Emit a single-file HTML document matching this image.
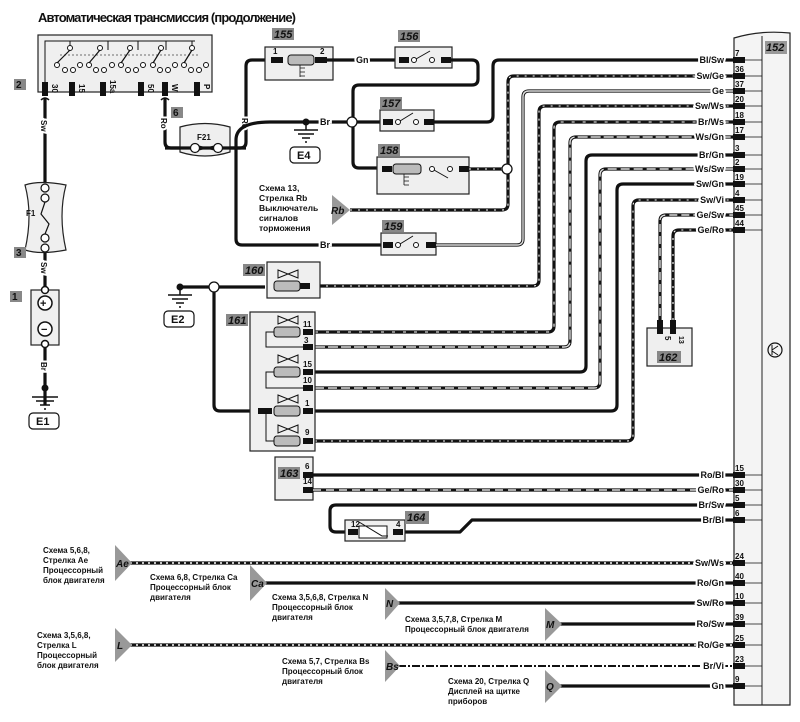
<!DOCTYPE html>
<html><head><meta charset="utf-8"><style>
html,body{margin:0;padding:0;background:#fff}
svg{display:block}
text{font-family:"Liberation Sans",sans-serif;font-weight:bold;fill:#111}
.lb{font-size:9px;stroke:#fff;stroke-width:4;paint-order:stroke}
.sm{font-size:8px}
.w{fill:none;stroke:#111;stroke-width:3.2;stroke-linejoin:round}
.wd{fill:none;stroke:#fff;stroke-width:1.1;stroke-dasharray:2 6}
.wh{fill:none;stroke:#ddd;stroke-width:1.4}
.ds{fill:none;stroke:#111;stroke-width:1.6;stroke-dasharray:7 4}
.box{fill:#efefef;stroke:#222;stroke-width:1.2}
.num{font-size:11px;font-style:italic;fill:#111}
.tag{fill:#888}
</style></head><body>
<svg width="800" height="722" viewBox="0 0 800 722" xmlns="http://www.w3.org/2000/svg">
<text x="38" y="22" font-size="13" textLength="258">Автоматическая трансмиссия (продолжение)</text>

<!-- ignition switch -->
<rect x="38" y="35" width="174" height="57" class="box"/>
<path d="M45,82 V41 H195 M108,41 V50 M138,41 V50 M166,41 V50 M192,41 V50 M70,41 V50" stroke="#111" stroke-width="1" fill="none"/>
<path d="M60,55 H200" stroke="#444" stroke-width="0.8" stroke-dasharray="2 2"/>
<g fill="#fff" stroke="#111" stroke-width="1">
<circle cx="70" cy="48" r="2.5"/><circle cx="100" cy="48" r="2.5"/><circle cx="130" cy="48" r="2.5"/><circle cx="161" cy="48" r="2.5"/><circle cx="192" cy="48" r="2.5"/>
<circle cx="57" cy="65" r="2.5"/><circle cx="65" cy="70" r="2.5"/><circle cx="73" cy="70" r="2.5"/><circle cx="80" cy="65" r="2.5"/>
<circle cx="89" cy="65" r="2.5"/><circle cx="96" cy="70" r="2.5"/><circle cx="104" cy="70" r="2.5"/><circle cx="112" cy="65" r="2.5"/>
<circle cx="121" cy="65" r="2.5"/><circle cx="128" cy="70" r="2.5"/><circle cx="136" cy="70" r="2.5"/><circle cx="143" cy="65" r="2.5"/>
<circle cx="153" cy="65" r="2.5"/><circle cx="160" cy="70" r="2.5"/><circle cx="168" cy="70" r="2.5"/><circle cx="175" cy="65" r="2.5"/>
<circle cx="184" cy="65" r="2.5"/><circle cx="191" cy="70" r="2.5"/><circle cx="199" cy="70" r="2.5"/><circle cx="206" cy="65" r="2.5"/>
</g>
<path d="M70,50 L57,63 M100,50 L89,63 M130,50 L121,63 M161,50 L153,63 M192,50 L184,63" stroke="#111" stroke-width="1.2"/>
<g fill="#111"><rect x="42" y="82" width="6" height="14"/><rect x="69" y="82" width="6" height="14"/><rect x="100" y="82" width="6" height="14"/><rect x="138" y="82" width="6" height="14"/><rect x="162" y="82" width="6" height="14"/><rect x="194" y="82" width="6" height="14"/></g>
<g class="sm"><text transform="translate(52,84) rotate(90)">30</text><text transform="translate(79,84) rotate(90)">15</text><text transform="translate(110,80) rotate(90)">15a</text><text transform="translate(148,84) rotate(90)">50</text><text transform="translate(172,84) rotate(90)">W</text><text transform="translate(204,84) rotate(90)">P</text></g>
<rect x="14" y="79" width="12" height="11" class="tag"/><text x="16" y="88" font-size="10">2</text>

<!-- left chain -->
<path d="M45,98 V405" class="w"/>
<path d="M41,100 Q45,96 49,100" stroke="#111" fill="none" stroke-width="1.5"/>
<text class="lb sm" transform="translate(41,120) rotate(90)">Sw</text>
<path d="M25,185 Q40,180 66,185 Q58,215 66,250 Q40,255 25,250 Q33,215 25,185 Z" class="box"/>
<g fill="#fff" stroke="#111" stroke-width="1.2"><circle cx="45" cy="188" r="4"/><circle cx="45" cy="198" r="4"/><circle cx="45" cy="238" r="4"/><circle cx="45" cy="248" r="4"/></g>
<path d="M45,202 L41,214 L49,224 L45,234" stroke="#111" stroke-width="1.2" fill="none"/>
<text x="26" y="216" font-size="8">F1</text>
<rect x="14" y="247" width="12" height="11" class="tag"/><text x="16" y="256" font-size="10">3</text>
<text class="lb sm" transform="translate(41,262) rotate(90)">Sw</text>
<rect x="31" y="290" width="28" height="55" class="box"/>
<g fill="#fff" stroke="#111" stroke-width="1.5"><circle cx="45" cy="290" r="3.5"/><circle cx="45" cy="344" r="3.5"/><circle cx="45" cy="303" r="7"/><circle cx="45" cy="329" r="7"/></g>
<text x="40" y="307" font-size="11">+</text><text x="41" y="333" font-size="11">−</text>
<rect x="10" y="291" width="12" height="11" class="tag"/><text x="12" y="300" font-size="10">1</text>
<text class="lb sm" transform="translate(41,362) rotate(90)">Br</text>
<circle cx="45" cy="388" r="3.5" fill="#111"/>
<path d="M32,397 H58 M36,401 H54 M40,405 H50 M44,409 H46" stroke="#111" stroke-width="1.5"/>
<rect x="29" y="413" width="30" height="16" rx="4" fill="#fff" stroke="#111" stroke-width="1.2"/><text x="36" y="425" font-size="11" font-weight="normal">E1</text>

<!-- F21 / Ro -->
<path d="M165,98 V142 Q165,148 171,148 H240 Q246,148 246,142 V66 Q246,60 252,60 H265" class="w"/>
<path d="M161,100 Q165,96 169,100" stroke="#111" fill="none" stroke-width="1.5"/>
<path d="M180,127 Q205,120 230,127 L230,152 Q205,160 180,152 Z" class="box"/>
<path d="M165,148 H246" class="w"/>
<g fill="#fff" stroke="#111" stroke-width="1.2"><circle cx="195" cy="148" r="4.5"/><circle cx="218" cy="148" r="4.5"/></g>
<path d="M199,146 L214,150 M199,150 L214,146" stroke="#111"/>
<text x="197" y="140" font-size="8">F21</text>
<rect x="171" y="107" width="12" height="11" class="tag"/><text x="173" y="116" font-size="10">6</text>
<text class="lb sm" transform="translate(161,118) rotate(90)">Ro</text>
<text class="lb sm" transform="translate(242,118) rotate(90)">Ro</text>

<!-- 155 -->
<rect x="265" y="47" width="68" height="33" class="box"/>
<rect x="272" y="28" width="22" height="12" class="tag"/><text x="274" y="38" class="num">155</text>
<rect x="271" y="57" width="12" height="6" fill="#111"/><rect x="315" y="57" width="12" height="6" fill="#111"/>
<rect x="288" y="55" width="26" height="10" rx="3" fill="#bbb" stroke="#111"/>
<text x="273" y="54" class="sm">1</text><text x="320" y="54" class="sm">2</text>
<path d="M300,65 V77 M300,68 H305 M300,72 H305 M300,76 H305" stroke="#111" stroke-width="0.8"/>
<path d="M327,60 H395" class="w"/><text x="356" y="63" class="lb">Gn</text>
<!-- 156 -->
<rect x="395" y="47" width="57" height="21" class="box"/>
<rect x="398" y="30" width="22" height="12" class="tag"/><text x="400" y="40" class="num">156</text>
<rect x="399" y="57" width="10" height="6" fill="#111"/><rect x="441" y="57" width="10" height="6" fill="#111"/>
<circle cx="414" cy="60" r="2.5" fill="#fff" stroke="#111"/><circle cx="432" cy="60" r="2.5" fill="#fff" stroke="#111"/><path d="M416,59 L430,51" stroke="#111"/>
<path d="M451,60 H472 Q478,60 478,66 V79 Q478,85 472,85 H359 Q353,85 353,91 V162 Q353,168 359,168 H377" class="w"/>

<!-- E4 / Br -->
<path d="M380,122 H270 Q236,122 236,140 V239 Q236,245 242,245 H381" class="w"/>
<circle cx="352" cy="122" r="5" fill="#fff" stroke="#111" stroke-width="1.3"/>
<circle cx="306" cy="122" r="3.5" fill="#111"/>
<path d="M306,122 V130 M294,130 H318 M298,134 H314 M302,138 H310 M305,142 H307" stroke="#111" stroke-width="1.5"/>
<rect x="290" y="147" width="30" height="16" rx="4" fill="#fff" stroke="#111" stroke-width="1.2"/><text x="297" y="159" font-size="11" font-weight="normal">E4</text>
<text x="320" y="125" class="lb">Br</text><text x="320" y="248" class="lb">Br</text>
<!-- 157 -->
<rect x="380" y="110" width="54" height="21" class="box"/>
<rect x="380" y="97" width="22" height="12" class="tag"/><text x="382" y="107" class="num">157</text>
<rect x="383" y="119" width="10" height="6" fill="#111"/><rect x="424" y="119" width="10" height="6" fill="#111"/>
<circle cx="398" cy="122" r="2.5" fill="#fff" stroke="#111"/><circle cx="416" cy="122" r="2.5" fill="#fff" stroke="#111"/><path d="M400,121 L413,113" stroke="#111"/>
<!-- 158 -->
<rect x="377" y="157" width="92" height="37" class="box"/>
<rect x="378" y="144" width="22" height="12" class="tag"/><text x="380" y="154" class="num">158</text>
<rect x="382" y="166" width="10" height="6" fill="#111"/><rect x="459" y="166" width="10" height="6" fill="#111"/>
<rect x="393" y="164" width="28" height="10" rx="3" fill="#bbb" stroke="#111"/>
<path d="M404,174 V185 M404,177 H409 M404,181 H409 M404,185 H409" stroke="#111" stroke-width="0.8"/>
<circle cx="432" cy="169" r="2.5" fill="#fff" stroke="#111"/><circle cx="450" cy="169" r="2.5" fill="#fff" stroke="#111"/><path d="M434,170 L448,178" stroke="#111"/>
<!-- 159 -->
<rect x="381" y="233" width="55" height="22" class="box"/>
<rect x="382" y="220" width="22" height="12" class="tag"/><text x="384" y="230" class="num">159</text>
<rect x="383" y="242" width="10" height="6" fill="#111"/><rect x="426" y="242" width="10" height="6" fill="#111"/>
<circle cx="398" cy="245" r="2.5" fill="#fff" stroke="#111"/><circle cx="416" cy="245" r="2.5" fill="#fff" stroke="#111"/><path d="M400,244 L413,236" stroke="#111"/>
<!-- Rb -->
<path d="M332,195 L350,210 L332,225 Z" fill="#999"/>
<text x="331" y="214" font-size="10" font-style="italic">Rb</text>
<g font-size="8.5"><text x="259" y="191">Схема 13,</text><text x="259" y="201">Стрелка Rb</text><text x="259" y="211">Выключатель</text><text x="259" y="221">сигналов</text><text x="259" y="231">торможения</text></g>

<!-- top wires to 152 -->
<path d="M434,122 H487 Q493,122 493,116 V66 Q493,60 499,60 H733" class="w"/>
<path d="M350,210 H502 Q508,210 508,204 V82 Q508,76 514,76 H733" class="w"/><path d="M350,210 H502 Q508,210 508,204 V82 Q508,76 514,76 H733" class="wd"/>
<path d="M469,169 H507" class="w"/><path d="M469,169 H507" class="wd"/>
<circle cx="507" cy="169" r="5" fill="#fff" stroke="#111" stroke-width="1.3"/>
<path d="M436,245 H517 Q523,245 523,239 V97 Q523,91 529,91 H733" class="w"/><path d="M436,245 H517 Q523,245 523,239 V97 Q523,91 529,91 H733" class="wh"/>
<path d="M318,286 H533 Q539,286 539,280 V112 Q539,106 545,106 H733" class="w"/><path d="M318,286 H533 Q539,286 539,280 V112 Q539,106 545,106 H733" class="wd"/>
<path d="M315,332 H548 Q554,332 554,326 V128 Q554,122 560,122 H733" class="w"/><path d="M315,332 H548 Q554,332 554,326 V128 Q554,122 560,122 H733" class="wd" style="stroke-dasharray:3 8"/>
<path d="M315,347 H564 Q570,347 570,341 V143 Q570,137 576,137 H733" class="w"/><path d="M315,347 H564 Q570,347 570,341 V143 Q570,137 576,137 H733" class="wh" style="stroke-dasharray:10 3"/>
<path d="M315,372 H580 Q586,372 586,366 V161 Q586,155 592,155 H733" class="w"/>
<path d="M315,388 H594 Q600,388 600,382 V175 Q600,169 606,169 H733" class="w"/><path d="M315,388 H594 Q600,388 600,382 V175 Q600,169 606,169 H733" class="wh" style="stroke-dasharray:9 4"/>
<path d="M315,411 H611 Q617,411 617,405 V190 Q617,184 623,184 H733" class="w"/>
<path d="M315,441 H627 Q633,441 633,435 V206 Q633,200 639,200 H733" class="w"/><path d="M315,441 H627 Q633,441 633,435 V206 Q633,200 639,200 H733" class="wd"/>
<path d="M660,328 V221 Q660,215 666,215 H733" class="w"/><path d="M660,328 V221 Q660,215 666,215 H733" class="wh" style="stroke-dasharray:8 4"/>
<path d="M673,328 V236 Q673,230 679,230 H733" class="w"/><path d="M673,328 V236 Q673,230 679,230 H733" class="wd"/>
<g class="lb" text-anchor="end">
<text x="724" y="63">Bl/Sw</text><text x="724" y="79">Sw/Ge</text><text x="724" y="94">Ge</text><text x="724" y="109">Sw/Ws</text><text x="724" y="125">Br/Ws</text><text x="724" y="140">Ws/Gn</text><text x="724" y="158">Br/Gn</text><text x="724" y="172">Ws/Sw</text><text x="724" y="187">Sw/Gn</text><text x="724" y="203">Sw/Vi</text><text x="724" y="218">Ge/Sw</text><text x="724" y="233">Ge/Ro</text>
</g>
<!-- 162 -->
<rect x="647" y="328" width="45" height="38" class="box"/>
<rect x="657" y="320" width="6" height="14" fill="#111"/><rect x="670" y="320" width="6" height="14" fill="#111"/>
<text class="sm" transform="translate(665,336) rotate(90)" font-size="7">5</text><text transform="translate(679,336) rotate(90)" font-size="7">13</text>
<rect x="657" y="351" width="24" height="12" class="tag"/><text x="659" y="361" class="num">162</text>

<!-- E2 / 160 / 161 -->
<path d="M180,287 H265" class="w"/><circle cx="180" cy="287" r="3.5" fill="#111"/>
<path d="M180,287 V295 M168,295 H192 M172,299 H188 M176,303 H184 M179,307 H181" stroke="#111" stroke-width="1.5"/>
<rect x="164" y="311" width="30" height="16" rx="4" fill="#fff" stroke="#111" stroke-width="1.2"/><text x="171" y="323" font-size="11" font-weight="normal">E2</text>
<path d="M214,287 V405 Q214,411 220,411 H260" class="w"/>
<circle cx="214" cy="287" r="5" fill="#fff" stroke="#111" stroke-width="1.3"/>
<rect x="267" y="262" width="53" height="36" class="box"/>
<rect x="243" y="264" width="22" height="12" class="tag"/><text x="245" y="274" class="num">160</text>
<rect x="250" y="312" width="65" height="139" class="box"/>
<rect x="226" y="314" width="22" height="12" class="tag"/><text x="228" y="324" class="num">161</text>
<g fill="#bbb" stroke="#111">
<rect x="274" y="281" width="26" height="10" rx="3"/><rect x="274" y="327" width="26" height="10" rx="3"/><rect x="274" y="367" width="26" height="10" rx="3"/><rect x="274" y="406" width="26" height="10" rx="3"/><rect x="274" y="436" width="26" height="10" rx="3"/>
</g>
<g fill="none" stroke="#111" stroke-width="1">
<path d="M278,270 L288,274 L278,278 Z M298,270 L288,274 L298,278 Z"/>
<path d="M278,316 L288,320 L278,324 Z M298,316 L288,320 L298,324 Z"/>
<path d="M278,355 L288,359 L278,363 Z M298,355 L288,359 L298,363 Z"/>
<path d="M278,395 L288,399 L278,403 Z M298,395 L288,399 L298,403 Z"/>
<path d="M278,425 L288,429 L278,433 Z M298,425 L288,429 L298,433 Z"/>
<path d="M274,332 H266 V347 H303 M274,372 H266 V388 H303 M266,411 V441 H274"/>
</g>
<g fill="#111"><rect x="300" y="283" width="10" height="6"/><rect x="258" y="408" width="14" height="6"/>
<rect x="303" y="329" width="10" height="6"/><rect x="303" y="344" width="10" height="6"/><rect x="303" y="369" width="10" height="6"/><rect x="303" y="385" width="10" height="6"/><rect x="303" y="408" width="10" height="6"/><rect x="303" y="438" width="10" height="6"/></g>
<circle cx="266" cy="411" r="2" fill="#111"/>
<g class="sm"><text x="303" y="327">11</text><text x="304" y="343">3</text><text x="303" y="367">15</text><text x="303" y="383">10</text><text x="305" y="406">1</text><text x="305" y="435">9</text></g>

<!-- 163 -->
<rect x="275" y="457" width="38" height="43" class="box"/>
<rect x="278" y="467" width="22" height="12" class="tag"/><text x="280" y="477" class="num">163</text>
<rect x="303" y="472" width="10" height="6" fill="#111"/><rect x="303" y="487" width="10" height="6" fill="#111"/>
<text x="305" y="469" class="sm">6</text><text x="303" y="484" class="sm">14</text>
<path d="M313,475 H733" class="w"/>
<path d="M313,490 H733" class="w"/><path d="M313,490 H733" class="wh" style="stroke-dasharray:8 5"/>
<!-- 164 -->
<path d="M346,532 H336 Q330,532 330,526 V511 Q330,505 336,505 H733" class="w"/>
<path d="M403,532 H460 L472,520 H733" class="w"/>
<rect x="345" y="520" width="60" height="21" class="box"/>
<rect x="348" y="529" width="10" height="6" fill="#111"/><rect x="393" y="529" width="10" height="6" fill="#111"/>
<rect x="359" y="526" width="28" height="12" fill="#fff" stroke="#111"/><path d="M359,522 L382,536 L388,536" stroke="#111" fill="none"/>
<text x="351" y="527" class="sm">12</text><text x="396" y="527" class="sm">4</text>
<rect x="405" y="511" width="24" height="13" class="tag"/><text x="407" y="521" class="num">164</text>
<g class="lb" text-anchor="end"><text x="724" y="478">Ro/Bl</text><text x="724" y="493">Ge/Ro</text><text x="724" y="508">Br/Sw</text><text x="724" y="523">Br/Bl</text></g>

<!-- bottom arrows -->
<path d="M130,563 H733" class="w"/><path d="M130,563 H733" class="wd" style="stroke-dasharray:2 4;stroke-width:1.4"/>
<path d="M265,583 H733" class="w"/>
<path d="M398,603 H733" class="w"/>
<path d="M560,624 H733" class="w"/>
<path d="M130,645 H733" class="w"/><path d="M130,645 H733" class="wd" style="stroke-dasharray:2 4;stroke-width:1.4"/>
<path d="M398,666 H733" stroke="#111" stroke-width="2" stroke-dasharray="8 2 2 2"/>
<path d="M560,686 H733" class="w"/>
<g fill="#999">
<path d="M115,545 L132,563 L115,581 Z"/><path d="M250,565 L267,583 L250,601 Z"/><path d="M385,588 L400,603 L385,620 Z"/>
<path d="M545,608 L562,624 L545,641 Z"/><path d="M115,628 L132,645 L115,662 Z"/><path d="M385,650 L400,666 L385,682 Z"/><path d="M545,670 L562,686 L545,703 Z"/>
</g>
<g font-size="10" font-style="italic"><text x="116" y="567">Ae</text><text x="251" y="587">Ca</text><text x="386" y="607">N</text><text x="546" y="628">M</text><text x="117" y="649">L</text><text x="386" y="670">Bs</text><text x="546" y="690">Q</text></g>
<g font-size="8">
<text x="43" y="553">Схема 5,6,8,</text><text x="43" y="563">Стрелка Ae</text><text x="43" y="573">Процессорный</text><text x="43" y="583">блок двигателя</text>
<text x="150" y="580">Схема 6,8, Стрелка Ca</text><text x="150" y="590">Процессорный блок</text><text x="150" y="600">двигателя</text>
<text x="272" y="600">Схема 3,5,6,8, Стрелка N</text><text x="272" y="610">Процессорный блок</text><text x="272" y="620">двигателя</text>
<text x="405" y="622">Схема 3,5,7,8, Стрелка M</text><text x="405" y="632">Процессорный блок двигателя</text>
<text x="37" y="638">Схема 3,5,6,8,</text><text x="37" y="648">Стрелка L</text><text x="37" y="658">Процессорный</text><text x="37" y="668">блок двигателя</text>
<text x="282" y="664">Схема 5,7, Стрелка Bs</text><text x="282" y="674">Процессорный блок</text><text x="282" y="684">двигателя</text>
<text x="448" y="684">Схема 20, Стрелка Q</text><text x="448" y="694">Дисплей на щитке</text><text x="448" y="704">приборов</text>
</g>
<g class="lb" text-anchor="end"><text x="724" y="566">Sw/Ws</text><text x="724" y="586">Ro/Gn</text><text x="724" y="606">Sw/Ro</text><text x="724" y="627">Ro/Sw</text><text x="724" y="648">Ro/Ge</text><text x="724" y="669">Br/Vi</text><text x="724" y="689">Gn</text></g>

<!-- module 152 -->
<path d="M734,705 V38 Q760,30 790,33 V705 Z" fill="#f4f4f4" stroke="#222" stroke-width="1.2"/>
<path d="M762,36 V705" stroke="#222" stroke-width="1"/>
<rect x="765" y="41" width="22" height="13" fill="#999"/><text x="766" y="51" class="num">152</text>
<circle cx="775" cy="350" r="7" fill="none" stroke="#111" stroke-width="1.2"/>
<path d="M772,345 V355 M772,350 L778,346 M772,351 L778,355" stroke="#111" stroke-width="1"/>
<g id="pins">
<g fill="#111">
<rect x="733" y="57" width="12" height="6"/><rect x="733" y="73" width="12" height="6"/><rect x="733" y="88" width="12" height="6"/><rect x="733" y="103" width="12" height="6"/><rect x="733" y="119" width="12" height="6"/><rect x="733" y="134" width="12" height="6"/><rect x="733" y="152" width="12" height="6"/><rect x="733" y="166" width="12" height="6"/><rect x="733" y="181" width="12" height="6"/><rect x="733" y="197" width="12" height="6"/><rect x="733" y="212" width="12" height="6"/><rect x="733" y="227" width="12" height="6"/>
<rect x="733" y="472" width="12" height="6"/><rect x="733" y="487" width="12" height="6"/><rect x="733" y="502" width="12" height="6"/><rect x="733" y="517" width="12" height="6"/>
<rect x="733" y="560" width="12" height="6"/><rect x="733" y="580" width="12" height="6"/><rect x="733" y="600" width="12" height="6"/><rect x="733" y="621" width="12" height="6"/><rect x="733" y="642" width="12" height="6"/><rect x="733" y="663" width="12" height="6"/><rect x="733" y="683" width="12" height="6"/>
</g>
<g stroke="#111" stroke-width="0.8">
<path d="M745,60 H762 M745,76 H762 M745,91 H762 M745,106 H762 M745,122 H762 M745,137 H762 M745,155 H762 M745,169 H762 M745,184 H762 M745,200 H762 M745,215 H762 M745,230 H762 M745,475 H762 M745,490 H762 M745,505 H762 M745,520 H762 M745,563 H762 M745,583 H762 M745,603 H762 M745,624 H762 M745,645 H762 M745,666 H762 M745,686 H762"/>
</g>
<g class="sm">
<text x="735" y="56">7</text><text x="735" y="72">36</text><text x="735" y="87">37</text><text x="735" y="102">20</text><text x="735" y="118">18</text><text x="735" y="133">17</text><text x="735" y="151">3</text><text x="735" y="165">2</text><text x="735" y="180">19</text><text x="735" y="196">4</text><text x="735" y="211">45</text><text x="735" y="226">44</text>
<text x="735" y="471">15</text><text x="735" y="486">30</text><text x="735" y="501">5</text><text x="735" y="516">6</text>
<text x="735" y="559">24</text><text x="735" y="579">40</text><text x="735" y="599">10</text><text x="735" y="620">39</text><text x="735" y="641">25</text><text x="735" y="662">23</text><text x="735" y="682">9</text>
</g>
</g>
</svg>
</body></html>
